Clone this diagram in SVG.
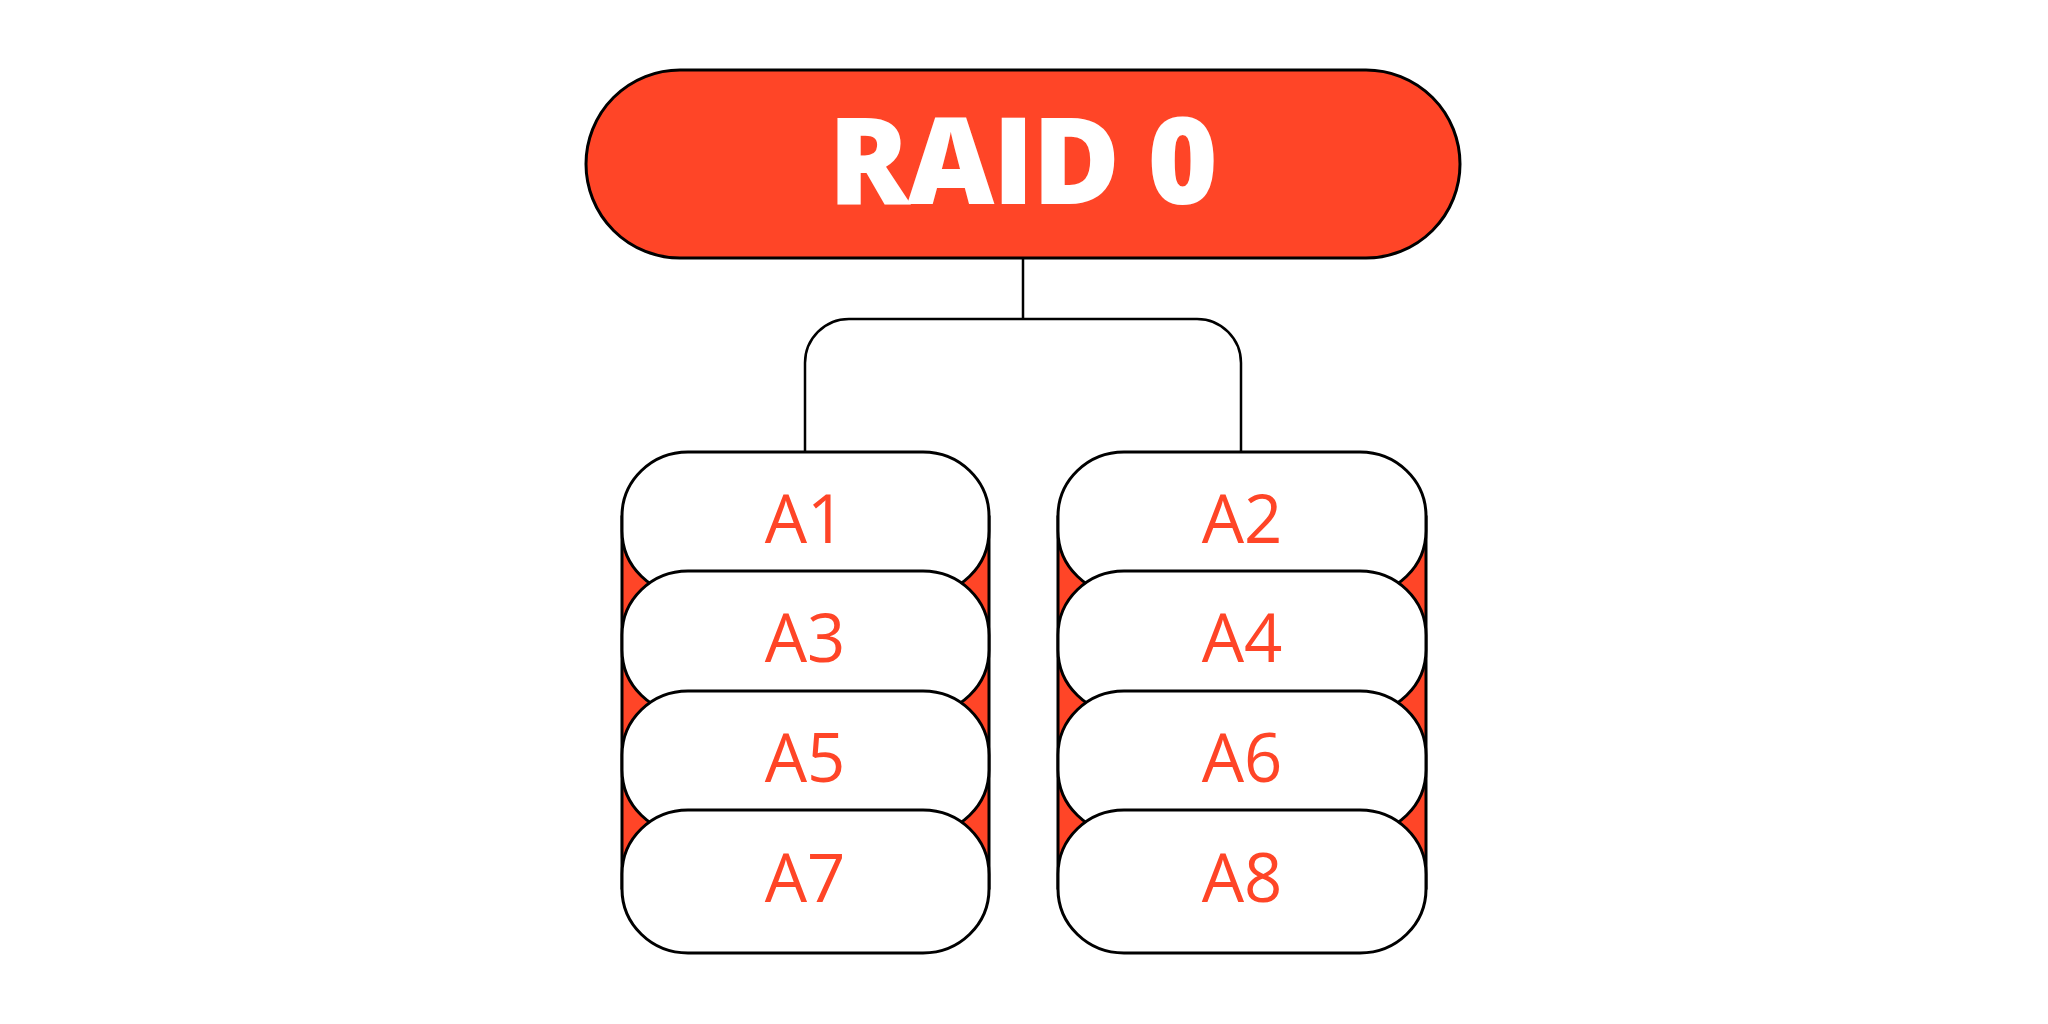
<svg xmlns="http://www.w3.org/2000/svg" width="2048" height="1024" viewBox="0 0 2048 1024">
<style>
.bg{fill:#ffffff}
.stack{fill:#FF4527;stroke:#000;stroke-width:3}
.disk{fill:#ffffff;stroke:#000;stroke-width:3}
.lbl{font-family:"Open Sans","Liberation Sans",sans-serif;font-size:67px;fill:#FF4527;text-anchor:middle}
.title{font-family:"Open Sans","Liberation Sans",sans-serif;font-size:120px;font-weight:800;fill:#ffffff;text-anchor:middle;letter-spacing:-2px}
.conn{fill:none;stroke:#000;stroke-width:2.5}
</style>
<rect class="bg" x="0" y="0" width="2048" height="1024"/>
<g id="connectors">
<path class="conn" d="M1023,258 V319"/>
<path class="conn" d="M805,452 V363 A44,44 0 0 1 849,319 H1197 A44,44 0 0 1 1241,363 V452"/>
</g>
<g id="raid0">
<rect x="586" y="70" width="874" height="188" rx="94" ry="94" fill="#FF4527" stroke="#000" stroke-width="3"/>
<text class="title" x="1022" y="204">RAID 0</text>
</g>
<g id="stack-left">
<rect class="stack" x="622" y="517" width="367" height="371"/>
<g id="A1"><rect class="disk" x="622" y="452" width="367" height="143" rx="66" ry="64"/><text class="lbl" x="805" y="543">A1</text></g>
<g id="A3"><rect class="disk" x="622" y="571" width="367" height="143" rx="66" ry="64"/><text class="lbl" x="805" y="662">A3</text></g>
<g id="A5"><rect class="disk" x="622" y="691" width="367" height="143" rx="66" ry="64"/><text class="lbl" x="805" y="782">A5</text></g>
<g id="A7"><rect class="disk" x="622" y="810" width="367" height="143" rx="66" ry="64"/><text class="lbl" x="805" y="902">A7</text></g>
</g>
<g id="stack-right">
<rect class="stack" x="1058" y="517" width="368" height="371"/>
<g id="A2"><rect class="disk" x="1058" y="452" width="368" height="143" rx="66" ry="64"/><text class="lbl" x="1242" y="543">A2</text></g>
<g id="A4"><rect class="disk" x="1058" y="571" width="368" height="143" rx="66" ry="64"/><text class="lbl" x="1242" y="662">A4</text></g>
<g id="A6"><rect class="disk" x="1058" y="691" width="368" height="143" rx="66" ry="64"/><text class="lbl" x="1242" y="782">A6</text></g>
<g id="A8"><rect class="disk" x="1058" y="810" width="368" height="143" rx="66" ry="64"/><text class="lbl" x="1242" y="902">A8</text></g>
</g>
</svg>
